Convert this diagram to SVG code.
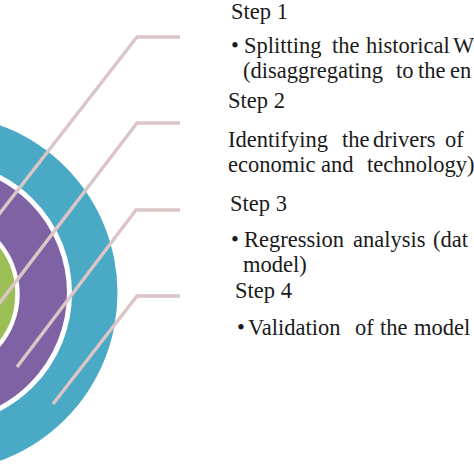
<svg xmlns="http://www.w3.org/2000/svg" width="474" height="474" viewBox="0 0 474 474">
<style>
.t{font-family:"Liberation Serif","Times New Roman",serif;font-size:22.5px;fill:#1a1a1a}
.lead{fill:none;stroke:#dcc5c6;stroke-width:3.4;stroke-linejoin:miter}
</style>
<rect width="474" height="474" fill="#ffffff"/>
<g id="rings">
<circle id="ring-outer" cx="-61" cy="293" r="178.5" fill="#4aaac5"/>
<circle id="ring-middle" cx="-61" cy="293" r="130.5" fill="#7f62a4" stroke="#ffffff" stroke-width="5"/>
<circle id="ring-inner" cx="-61" cy="294" r="78.5" fill="#9cbf55" stroke="#ffffff" stroke-width="4.5"/>
</g>
<g id="connectors">
<path class="lead" d="M180,37 H137 L-2,215.5"/>
<path class="lead" d="M180,123 H137 L-2,305"/>
<path class="lead" d="M180,210 H136 L17,367"/>
<path class="lead" d="M180,296 H137 L53,404"/>
</g>
<g id="step1">
<text class="t" x="231" y="19">Step 1</text>
<text class="t" y="53"><tspan x="231">•</tspan><tspan x="244">Splitting</tspan><tspan x="332">the</tspan><tspan x="366">historical</tspan><tspan x="453">W</tspan></text>
<text class="t" y="78"><tspan x="243">(disaggregating</tspan><tspan x="396">to</tspan><tspan x="418">the</tspan><tspan x="450">en</tspan></text>
</g>
<g id="step2">
<text class="t" x="228" y="108">Step 2</text>
<text class="t" y="147"><tspan x="228">Identifying</tspan><tspan x="342">the</tspan><tspan x="373">drivers</tspan><tspan x="445">of</tspan></text>
<text class="t" y="172"><tspan x="228">economic</tspan><tspan x="321">and</tspan><tspan x="367">technology)</tspan></text>
</g>
<g id="step3">
<text class="t" x="230" y="211">Step 3</text>
<text class="t" y="247"><tspan x="231">•</tspan><tspan x="244">Regression</tspan><tspan x="353">analysis</tspan><tspan x="433">(dat</tspan></text>
<text class="t" x="243" y="272">model)</text>
</g>
<g id="step4">
<text class="t" x="235" y="298">Step 4</text>
<text class="t" y="335"><tspan x="237">•</tspan><tspan x="248">Validation</tspan><tspan x="355">of</tspan><tspan x="380">the</tspan><tspan x="414">model</tspan></text>
</g>
</svg>
